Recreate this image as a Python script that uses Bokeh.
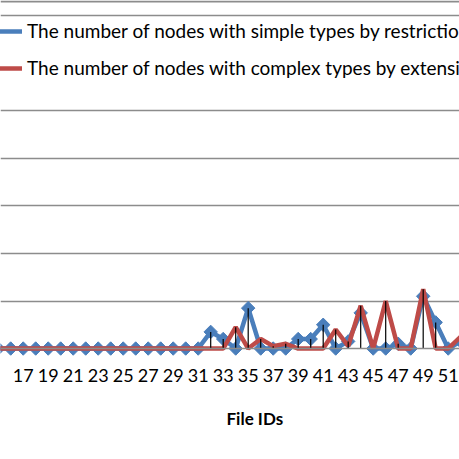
import math
from bokeh.plotting import figure
from bokeh.models import (ColumnDataSource, FixedTicker, Span, Legend, LegendItem,
                          Title, Range1d)
from bokeh.embed import file_html
from bokeh.resources import INLINE

# ---- data ----
file_ids = list(range(15, 53))
simple_by_restriction = [0, 0, 0, 0, 0, 0, 0, 0, 0, 0, 0, 0, 0, 0, 0, 0, 0,
                         7, 4, 0, 17, 0, 0, 0, 4, 4, 10, 0, 3, 15, 0, 0, 2, 0, 22, 11, 0, 3]
complex_by_extension = [0, 0, 0, 0, 0, 0, 0, 0, 0, 0, 0, 0, 0, 0, 0, 0, 0,
                        0, 0, 9, 0, 4, 1, 2, 0, 0, 0, 8, 1, 18, 0, 20, 0, 0, 25, 0, 0, 5]
tick_ids = list(range(15, 53, 2))
grid_values = [20, 40, 60, 80, 100, 120, 140]
series_names = ["The number of nodes with simple types by restriction",
                "The number of nodes with complex types by extension"]
x_title = "File IDs"

drop_top = [max(a, b) for a, b in zip(simple_by_restriction, complex_by_extension)]
src = ColumnDataSource(dict(x=file_ids, s=simple_by_restriction, c=complex_by_extension,
                            top=drop_top, zero=[0] * len(file_ids)))

FONT = "Lato"
BLUE = "#4A7EBB"
RED = "#BE4B48"
GRID = "#8C8C8C"

p = figure(width=459, height=459, output_backend="svg", toolbar_location=None,
           title_location=None,
           x_range=Range1d(15.184, 51.904), y_range=Range1d(-4.2, 146.5),
           min_border_left=0, min_border_right=0, min_border_top=0,
           min_border_bottom=101)
p.outline_line_color = None
p.background_fill_color = "white"
p.border_fill_color = "white"

p.yaxis.visible = False
p.xgrid.visible = False
p.ygrid.ticker = FixedTicker(ticks=grid_values)
p.ygrid.grid_line_color = GRID
p.ygrid.grid_line_width = 1.3

xa = p.xaxis[0]
xa.ticker = FixedTicker(ticks=tick_ids)
xa.axis_line_color = None
xa.major_tick_line_color = None
xa.minor_tick_line_color = None
xa.major_label_standoff = 4
xa.major_label_text_font = FONT
xa.major_label_text_font_size = "18px"
xa.major_label_text_color = "black"

p.add_layout(Span(location=0, dimension="width", line_color=GRID, line_width=1.5))
p.add_layout(Span(location=146.1, dimension="width", line_color=GRID, line_width=2))

bl = p.line("x", "s", source=src, line_color=BLUE, line_width=4.5)
bs = p.scatter("x", "s", source=src, marker="square", angle=math.pi / 4, size=9.5,
               fill_color=BLUE, line_color=BLUE)
rl = p.line("x", "c", source=src, line_color=RED, line_width=4.5)
p.segment("x", "zero", "x", "top", source=src, line_color="black", line_width=1.2)

legend = Legend(items=[LegendItem(label=series_names[0], renderers=[bl, bs]),
                       LegendItem(label=series_names[1], renderers=[rl])],
                location=(-38, 279))
legend.border_line_color = None
legend.background_fill_color = "white"
legend.background_fill_alpha = 1.0
legend.padding = 6
legend.margin = 0
legend.spacing = 14
legend.glyph_width = 60
legend.glyph_height = 22
legend.label_height = 22
legend.label_standoff = 5
legend.label_text_font = FONT
legend.label_text_font_size = "19px"
legend.label_text_color = "black"
p.add_layout(legend)

p.add_layout(Title(text=x_title, align="left", offset=226, standoff=43,
                   text_font=FONT, text_font_size="17px", text_font_style="bold",
                   text_color="black"), "below")

open("out.html", "w").write(file_html(p, INLINE))
